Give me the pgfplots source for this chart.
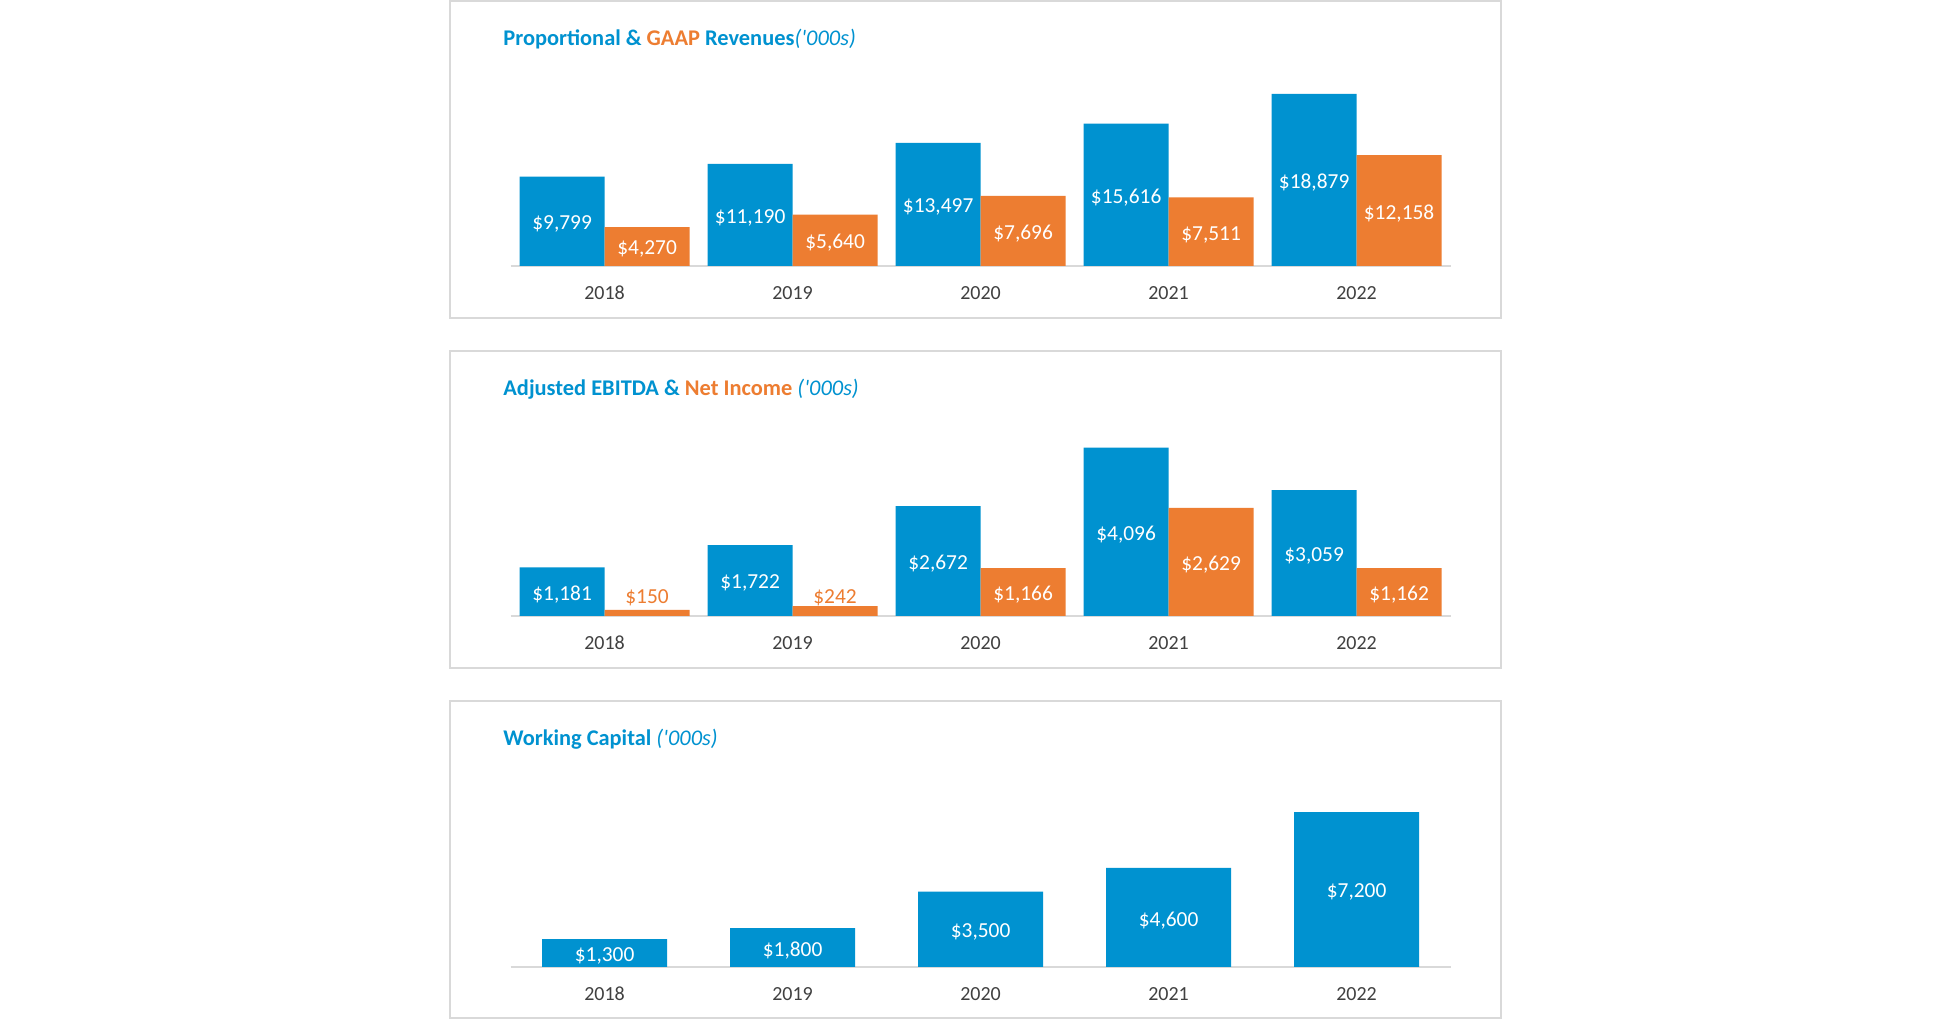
\documentclass[border=0pt]{standalone}
\usepackage{fontspec}
\setmainfont{Carlito}
\usepackage{pgfplots}
\pgfplotsset{compat=1.18}

\definecolor{barblue}{RGB}{0,146,208}
\definecolor{barorange}{RGB}{237,125,49}
\definecolor{ticktext}{RGB}{64,64,64}
\definecolor{framegray}{RGB}{217,217,217}

% 1 px of the reference = 0.5pt
\pgfplotsset{
  panel/.style={
    scale only axis,
    width=470pt,
    xmin=-0.5, xmax=4.5,
    ymin=0,
    anchor=south west,
    clip=false,
    axis x line=bottom,
    axis y line=none,
    x axis line style={draw=framegray, line width=1pt, -},
    major tick style={draw=none},
    ytick=\empty,
    xtick={0,1,2,3,4},
    xticklabels={2018,2019,2020,2021,2022},
    xticklabel style={font=\fontsize{10}{12}\selectfont, text=ticktext, anchor=base, yshift=-14.5pt},
  },
  money/.style={
    nodes near coords={\$\pgfmathprintnumber[fixed,precision=0,1000 sep={,},assume math mode=true]{\pgfplotspointmeta}},
  },
  % #1 = horizontal offset of the bar, in axis units
  midlabel/.style={
    money,
    visualization depends on=y \as \rawy,
    every node near coord/.append style={anchor=center, text=white,
      font=\fontsize{10.7}{12}\selectfont,
      shift={(axis direction cs:#1,-\rawy/2)}, yshift=-1.4pt},
  },
  lowlabel/.style={
    money,
    visualization depends on=y \as \rawy,
    every node near coord/.append style={anchor=center, text=barorange,
      font=\fontsize{10.7}{12}\selectfont,
      shift={(axis direction cs:#1,-\rawy)}, yshift=9.2pt},
  },
}

\begin{document}
\begin{tikzpicture}
\fill[white] (0,0) rectangle (975.5pt,510pt);
\path[use as bounding box] (0,0) rectangle (975.5pt,510pt);

% panel frames
\draw[framegray, line width=1pt] (225pt,351pt) rectangle (750.5pt,509.5pt);
\draw[framegray, line width=1pt] (225pt,176pt) rectangle (750.5pt,334.5pt);
\draw[framegray, line width=1pt] (225pt,1pt) rectangle (750.5pt,159.5pt);

% titles
\node[anchor=base west, inner sep=0pt, text=barblue, font=\bfseries\fontsize{11.2}{13}\selectfont]
  at (251.5pt,487pt) {Proportional \& {\color{barorange}GAAP} Revenues{\mdseries\itshape(\textquotesingle 000s)}};
\node[anchor=base west, inner sep=0pt, text=barblue, font=\bfseries\fontsize{11.2}{13}\selectfont]
  at (251.5pt,312pt) {Adjusted EBITDA \& {\color{barorange}Net Income} {\mdseries\itshape(\textquotesingle 000s)}};
\node[anchor=base west, inner sep=0pt, text=barblue, font=\bfseries\fontsize{11.2}{13}\selectfont]
  at (251.5pt,137pt) {Working Capital {\mdseries\itshape(\textquotesingle 000s)}};

% Proportional & GAAP revenues
\begin{axis}[panel, at={(255.3pt,377pt)}, height=91.2pt, ymax=20000]
  \addplot[ybar, bar width=0.452, bar shift=-0.226, fill=barblue, draw=none, midlabel=-0.226]
    coordinates {(0,9799) (1,11190) (2,13497) (3,15616) (4,18879)};
  \addplot[ybar, bar width=0.452, bar shift=0.226, fill=barorange, draw=none, midlabel=0.226]
    coordinates {(0,4270) (1,5640) (2,7696) (3,7511) (4,12158)};
\end{axis}

% Adjusted EBITDA & Net Income
\begin{axis}[panel, at={(255.3pt,202pt)}, height=92.5pt, ymax=4500]
  \addplot[ybar, bar width=0.452, bar shift=-0.226, fill=barblue, draw=none, midlabel=-0.226]
    coordinates {(0,1181) (1,1722) (2,2672) (3,4096) (4,3059)};
  \addplot[ybar, bar width=0.452, bar shift=0.226, fill=barorange, draw=none, lowlabel=0.226]
    coordinates {(0,150) (1,242)};
  \addplot[ybar, bar width=0.452, bar shift=0.226, fill=barorange, draw=none, midlabel=0.226]
    coordinates {(2,1166) (3,2629) (4,1162)};
\end{axis}

% Working capital
\begin{axis}[panel, at={(255.3pt,26.5pt)}, height=86.1pt, ymax=8000]
  \addplot[ybar, bar width=0.665, bar shift=0, fill=barblue, draw=none, midlabel=0]
    coordinates {(0,1300) (1,1800) (2,3500) (3,4600) (4,7200)};
\end{axis}
\end{tikzpicture}
\end{document}
